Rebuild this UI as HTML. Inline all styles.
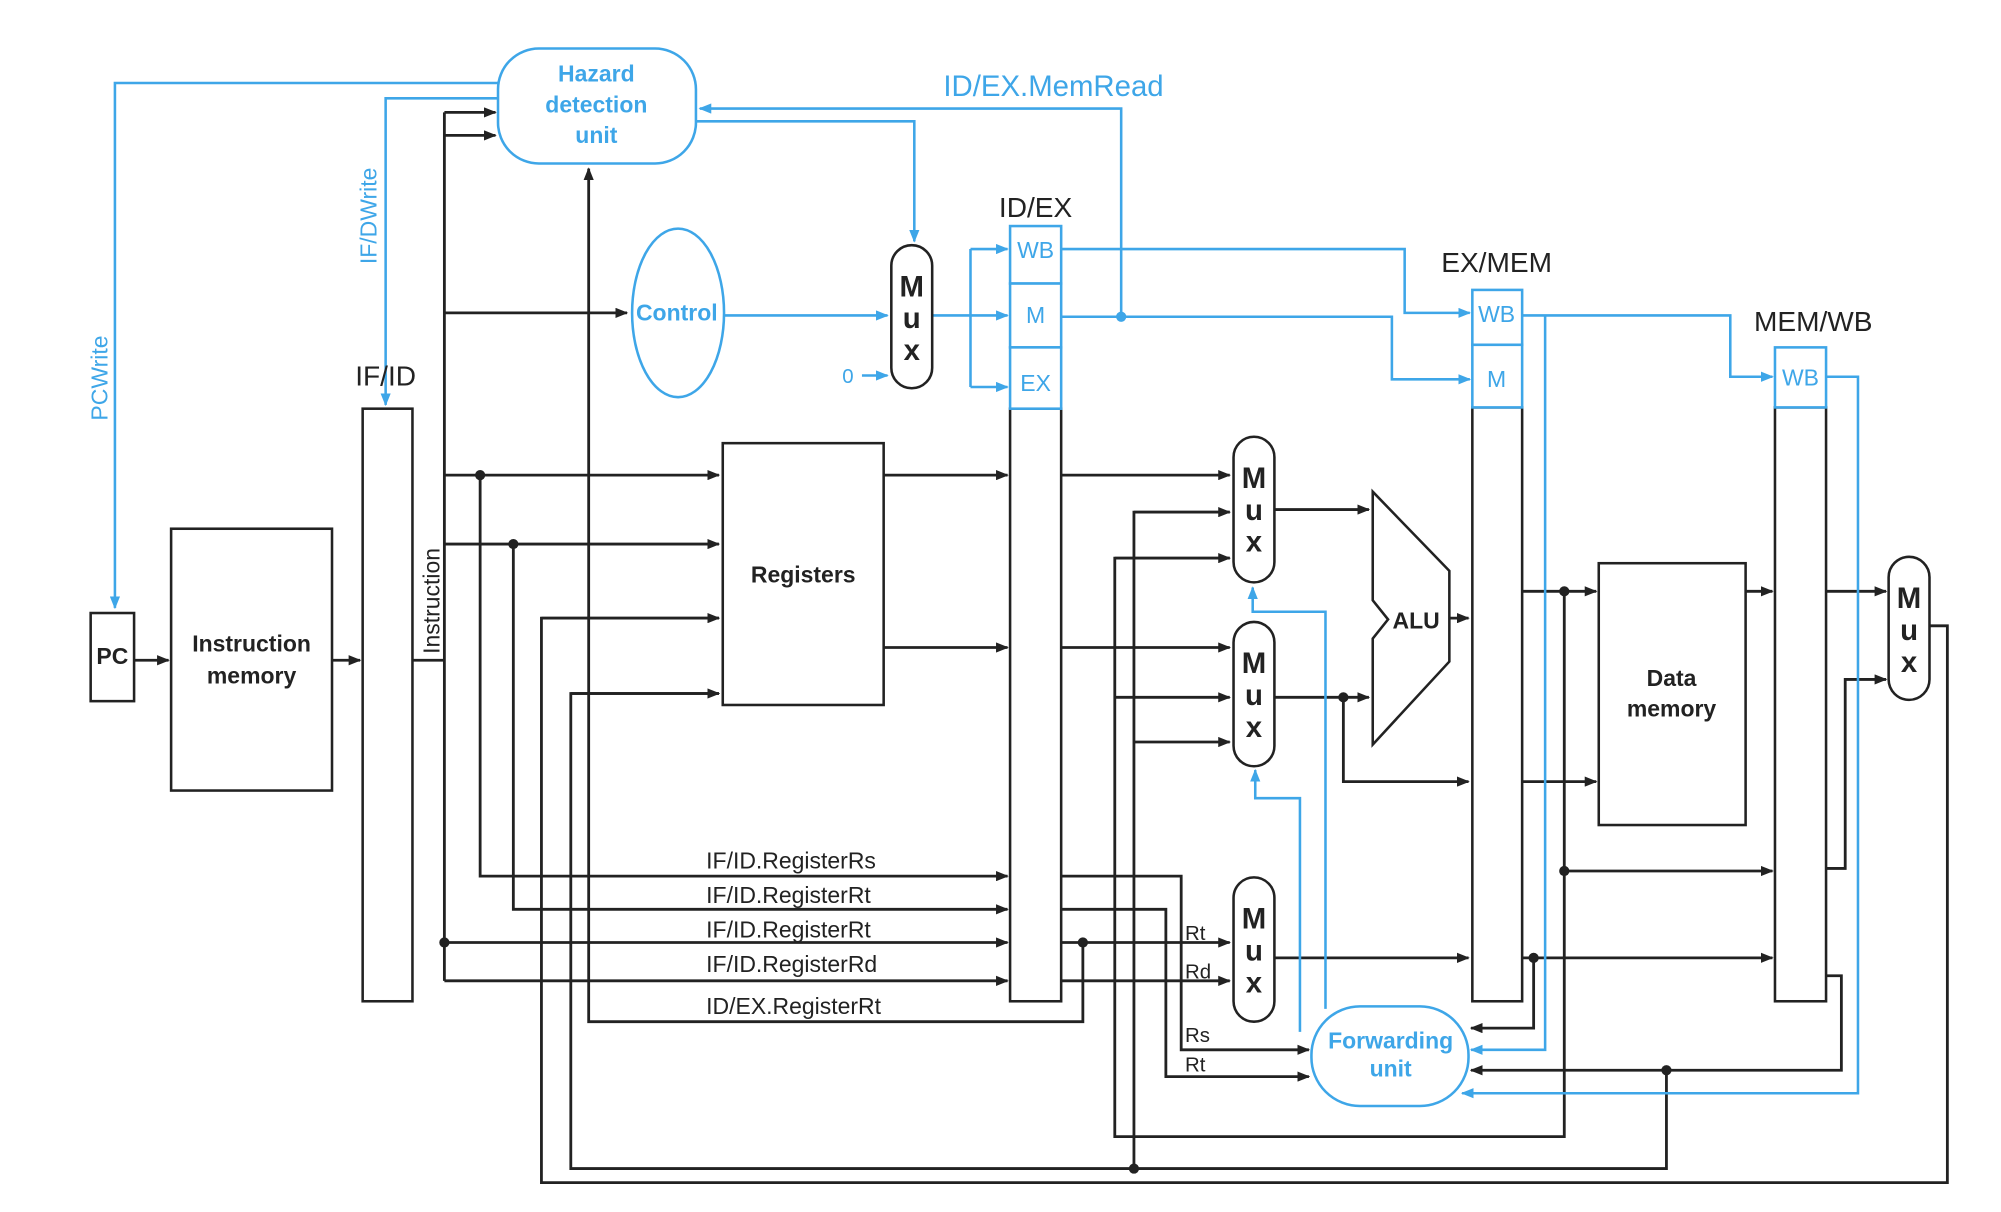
<!DOCTYPE html>
<html><head><meta charset="utf-8"><style>
html,body{margin:0;padding:0;background:#fff;}
svg{display:block;}
text{font-family:"Liberation Sans",sans-serif;}
</style></head><body>
<svg width="2001" height="1212" viewBox="0 0 1567 949" preserveAspectRatio="none" xmlns="http://www.w3.org/2000/svg">
<defs>
<marker id="ak" markerWidth="10" markerHeight="8" refX="9" refY="4" orient="auto" markerUnits="userSpaceOnUse"><path d="M0,0 L10,4 L0,8 z" fill="#222"/></marker>
<marker id="ab" markerWidth="10" markerHeight="8" refX="9" refY="4" orient="auto" markerUnits="userSpaceOnUse"><path d="M0,0 L10,4 L0,8 z" fill="#3ea6e8"/></marker>
</defs>
<rect width="1567" height="949" fill="#fff"/>

<g fill="none" stroke="#222" stroke-width="2.2">
<path d="M105,517 H132" marker-end="url(#ak)"/>
<path d="M260,517 H282" marker-end="url(#ak)"/>
<path d="M323,517 H348"/>
<path d="M348,88 V768"/>
<path d="M348,88 H388" marker-end="url(#ak)"/>
<path d="M348,106 H388" marker-end="url(#ak)"/>
<path d="M348,245 H491" marker-end="url(#ak)"/>
<path d="M348,372 H563" marker-end="url(#ak)"/>
<path d="M348,426 H563" marker-end="url(#ak)"/>
<path d="M348,738 H789" marker-end="url(#ak)"/>
<path d="M348,768 H789" marker-end="url(#ak)"/>
<path d="M376,372 V686 H789" marker-end="url(#ak)"/>
<path d="M402,426 V712 H789" marker-end="url(#ak)"/>
<path d="M563,484 H424 V926 H1525 V490 H1511"/>
<path d="M424,484 H563" marker-end="url(#ak)"/>
<path d="M563,543 H447 V915 H1305 V838"/>
<path d="M447,543 H563" marker-end="url(#ak)"/>
<path d="M848,738 V800 H461 V132" marker-end="url(#ak)"/>
<path d="M692,372 H789" marker-end="url(#ak)"/>
<path d="M692,507 H789" marker-end="url(#ak)"/>
<path d="M831,372 H963" marker-end="url(#ak)"/>
<path d="M831,507 H963" marker-end="url(#ak)"/>
<path d="M963,437 H873 V890 H1225 V463"/>
<path d="M873,437 H963" marker-end="url(#ak)"/>
<path d="M873,546 H963" marker-end="url(#ak)"/>
<path d="M963,401 H888 V915"/>
<path d="M888,401 H963" marker-end="url(#ak)"/>
<path d="M888,581 H963" marker-end="url(#ak)"/>
<path d="M998,399 H1072" marker-end="url(#ak)"/>
<path d="M998,546 H1072" marker-end="url(#ak)"/>
<path d="M1052,546 V612 H1150" marker-end="url(#ak)"/>
<path d="M1135,484 H1150" marker-end="url(#ak)"/>
<path d="M1192,463 H1250" marker-end="url(#ak)"/>
<path d="M1192,612 H1250" marker-end="url(#ak)"/>
<path d="M1225,682 H1388" marker-end="url(#ak)"/>
<path d="M998,750 H1150" marker-end="url(#ak)"/>
<path d="M1192,750 H1388" marker-end="url(#ak)"/>
<path d="M1201,750 V805 H1152" marker-end="url(#ak)"/>
<path d="M831,686 H925 V822 H1025" marker-end="url(#ak)"/>
<path d="M831,712 H913 V843 H1025" marker-end="url(#ak)"/>
<path d="M831,738 H963" marker-end="url(#ak)"/>
<path d="M831,768 H963" marker-end="url(#ak)"/>
<path d="M1367,463 H1388" marker-end="url(#ak)"/>
<path d="M1430,463 H1477" marker-end="url(#ak)"/>
<path d="M1430,680 H1445 V532 H1477" marker-end="url(#ak)"/>
<path d="M1430,764 H1442 V838 H1152" marker-end="url(#ak)"/>
</g>
<g fill="#222">
<circle cx="376" cy="372" r="4"/><circle cx="402" cy="426" r="4"/><circle cx="348" cy="738" r="4"/>
<circle cx="848" cy="738" r="4"/><circle cx="888" cy="915" r="4"/><circle cx="1052" cy="546" r="4"/>
<circle cx="1225" cy="463" r="4"/><circle cx="1225" cy="682" r="4"/><circle cx="1201" cy="750" r="4"/>
<circle cx="1305" cy="838" r="4"/>
</g>

<g fill="none" stroke="#3ea6e8" stroke-width="2">
<path d="M390,65 H90 V476" marker-end="url(#ab)"/>
<path d="M390,77 H302 V317" marker-end="url(#ab)"/>
<path d="M545,95 H716 V189" marker-end="url(#ab)"/>
<path d="M878,248 V85 H548" marker-end="url(#ab)"/>
<path d="M567,247 H695" marker-end="url(#ab)"/>
<path d="M675,294 H695" marker-end="url(#ab)"/>
<path d="M730,247 H760"/>
<path d="M760,195 V303"/>
<path d="M760,195 H789" marker-end="url(#ab)"/>
<path d="M760,247 H789" marker-end="url(#ab)"/>
<path d="M760,303 H789" marker-end="url(#ab)"/>
<path d="M831,195 H1100 V245 H1151" marker-end="url(#ab)"/>
<path d="M831,248 H1090 V297 H1151" marker-end="url(#ab)"/>
<path d="M1192,247 H1355 V295 H1388" marker-end="url(#ab)"/>
<path d="M1210,247 V822 H1152" marker-end="url(#ab)"/>
<path d="M1430,295 H1455 V856 H1145" marker-end="url(#ab)"/>
<path d="M1038,790 V479 H981 V460" marker-end="url(#ab)"/>
<path d="M1018,808 V625 H983 V603" marker-end="url(#ab)"/>
</g>
<circle cx="878" cy="248" r="4" fill="#3ea6e8"/>

<g fill="#fff" stroke="#222" stroke-width="2">
<rect x="71" y="480" width="34" height="69"/>
<rect x="134" y="414" width="126" height="205"/>
<rect x="284" y="320" width="39" height="464"/>
<rect x="566" y="347" width="126" height="205"/>
<rect x="791" y="320" width="40" height="464"/>
<rect x="1153" y="319" width="39" height="465"/>
<rect x="1390" y="319" width="40" height="465"/>
<rect x="1252" y="441" width="115" height="205"/>
<rect x="698" y="192" width="32" height="112" rx="16"/>
<rect x="966" y="342" width="32" height="114" rx="16"/>
<rect x="966" y="487" width="32" height="113" rx="16"/>
<rect x="966" y="687" width="32" height="113" rx="16"/>
<rect x="1479" y="436" width="32" height="112" rx="16"/>
<polygon points="1075,385 1135,447 1135,518 1075,583 1075,500 1087,485 1075,470"/>
</g>
<g fill="#fff" stroke="#3ea6e8" stroke-width="2">
<rect x="390" y="38" width="155" height="90" rx="32"/>
<ellipse cx="531" cy="245" rx="36" ry="66"/>
<rect x="1027" y="788" width="123" height="78" rx="38"/>
<rect x="791" y="177" width="40" height="45"/><rect x="791" y="222" width="40" height="50"/><rect x="791" y="272" width="40" height="48"/>
<rect x="1153" y="227" width="39" height="43"/><rect x="1153" y="270" width="39" height="49"/>
<rect x="1390" y="272" width="40" height="47"/>
</g>

<g fill="#222" font-weight="bold" font-size="18" text-anchor="middle">
<text x="88" y="520">PC</text>
<text x="197" y="510">Instruction</text><text x="197" y="535">memory</text>
<text x="629" y="456">Registers</text>
<text x="1309" y="537">Data</text><text x="1309" y="561">memory</text>
<text x="1109" y="492">ALU</text>
</g>
<g fill="#222" font-weight="bold" font-size="23" text-anchor="middle">
<text x="714" y="232">M</text><text x="714" y="257">u</text><text x="714" y="282">x</text>
<text x="982" y="382">M</text><text x="982" y="407">u</text><text x="982" y="432">x</text>
<text x="982" y="527">M</text><text x="982" y="552">u</text><text x="982" y="577">x</text>
<text x="982" y="727">M</text><text x="982" y="752">u</text><text x="982" y="777">x</text>
<text x="1495" y="476">M</text><text x="1495" y="501">u</text><text x="1495" y="526">x</text>
</g>
<g fill="#222" font-size="22" text-anchor="middle">
<text x="302" y="302">IF/ID</text><text x="811" y="170">ID/EX</text>
<text x="1172" y="213">EX/MEM</text><text x="1420" y="259">MEM/WB</text>
</g>
<text x="344" y="512" transform="rotate(-90 344 512)" font-size="18" fill="#222">Instruction</text>
<g fill="#222" font-size="18">
<text x="553" y="680">IF/ID.RegisterRs</text>
<text x="553" y="707">IF/ID.RegisterRt</text>
<text x="553" y="734">IF/ID.RegisterRt</text>
<text x="553" y="761">IF/ID.RegisterRd</text>
<text x="553" y="794">ID/EX.RegisterRt</text>
<text x="928" y="736" font-size="16">Rt</text><text x="928" y="766" font-size="16">Rd</text>
<text x="928" y="816" font-size="16">Rs</text><text x="928" y="839" font-size="16">Rt</text>
</g>

<g fill="#3ea6e8" font-weight="bold" font-size="18" text-anchor="middle">
<text x="467" y="64">Hazard</text><text x="467" y="88">detection</text><text x="467" y="112">unit</text>
<text x="530" y="251">Control</text>
<text x="1089" y="821">Forwarding</text><text x="1089" y="843">unit</text>
</g>
<g fill="#3ea6e8" font-size="18" text-anchor="middle">
<text x="811" y="202">WB</text><text x="811" y="253">M</text><text x="811" y="306">EX</text>
<text x="1172" y="252">WB</text><text x="1172" y="303">M</text>
<text x="1410" y="302">WB</text>
<text x="664" y="300" font-size="16">0</text>
</g>
<text x="825" y="75" fill="#3ea6e8" font-size="23" text-anchor="middle">ID/EX.MemRead</text>
<text x="84" y="296" transform="rotate(-90 84 296)" fill="#3ea6e8" font-size="18" text-anchor="middle">PCWrite</text>
<text x="295" y="169" transform="rotate(-90 295 169)" fill="#3ea6e8" font-size="18" text-anchor="middle">IF/DWrite</text>
</svg>
</body></html>
